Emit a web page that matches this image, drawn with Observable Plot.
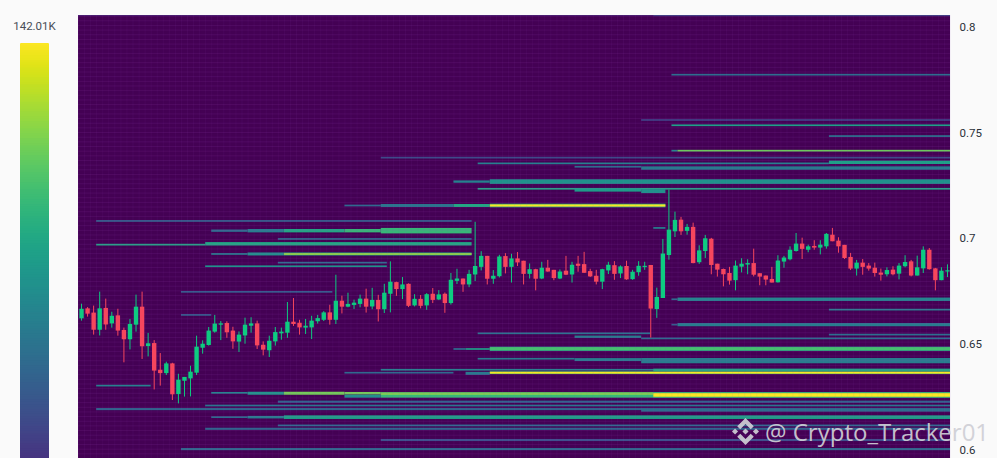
<!DOCTYPE html>
<html>
<head>
<meta charset="utf-8">
<script src="https://cdn.jsdelivr.net/npm/d3@7"></script>
<script src="https://cdn.jsdelivr.net/npm/@observablehq/plot@0.6"></script>
<style>
html,body{margin:0;padding:0;background:#fafafa;overflow:hidden;width:997px;height:458px}
#main{position:absolute;left:0;top:0}
#bar{position:absolute;left:20px;top:43px;width:29px;height:415px;overflow:hidden;border-radius:2px 2px 0 0}
#maxLabel{position:absolute;left:0;width:69px;top:19px;text-align:center;font:11.5px/14px Roboto,sans-serif;color:#474d57}
#mark{position:absolute;left:732px;top:418px;display:flex;align-items:center;gap:6px;color:#cfcfd6;opacity:.92;white-space:nowrap;font:24px/27px "Open Sans",sans-serif}
#mark svg{width:27px;height:27px;fill:currentColor;flex:none}
</style>
</head>
<body>
<div id="main"></div>
<div id="maxLabel">142.01K</div>
<div id="bar"></div>
<div id="mark"><svg viewBox="0 0 126.61 126.61"><path d="M38.73 53.2 63.3 28.63 87.89 53.22 102.19 38.92 63.3 0 24.43 38.9z"/><path d="M0 63.31 14.3 49 28.6 63.3 14.3 77.6z"/><path d="M38.73 73.41 63.3 97.98 87.89 73.39 102.2 87.68 63.3 126.6 24.42 87.7z"/><path d="M98.01 63.31 112.31 49 126.61 63.3 112.31 77.61z"/><path d="M77.81 63.3 63.3 48.78 48.8 63.28 63.3 77.79z"/></svg><span>@ Crypto_Tracker01</span></div>
<script>
// Candles, prices in units of 0.0001
const candleHigh = [
6691,6675,6682,6748,6715,6653,6667,6578,6619,6734,6748,6553,6519,6458,6417,6412,6360,6345,6398,6540,6518,6581,6638,6609,6608,6582,6560,6625,6627,6611,6513,6540,6581,6578,6699,6718,6615,6619,6634,6638,6656,6686,6828,6729,6743,6710,6734,6762,
6766,6733,6785,6891,6795,6817,6787,6736,6732,6741,6765,6755,6744,6836,6856,6810,6851,7078,6939,6917,6850,6922,6930,6927,6935,6894,6881,6856,6889,6898,6851,6853,6917,6889,6917,6936,6856,6851,6856,6889,6892,6872,6894,6851,6892,6889,
6874,6767,6997,7230,7126,7101,7068,7074,6967,7016,7002,6880,6857,6865,6895,6906,6901,6951,6835,6824,6865,6920,6917,6962,7025,7003,6970,6991,6991,7025,7049,7005,6969,6931,6898,6902,6883,6885,6857,6863,6868,6883,6920,6898,6918,6962,6954,6860,6863,6877];
const candleBodyTop = [
6667,6669,6649,6669,6671,6634,6636,6567,6595,6677,6677,6504,6505,6379,6409,6409,6332,6345,6370,6488,6502,6564,6597,6598,6600,6564,6545,6592,6598,6598,6497,6516,6557,6559,6606,6606,6601,6587,6611,6623,6650,6650,6705,6705,6690,6696,6715,6715,
6709,6709,6743,6795,6793,6782,6785,6714,6714,6736,6738,6735,6738,6804,6810,6810,6832,6869,6917,6917,6823,6914,6916,6905,6905,6894,6854,6854,6861,6861,6851,6843,6847,6875,6880,6878,6845,6823,6854,6875,6873,6867,6869,6842,6870,6870,
6874,6723,6928,7041,7087,7088,7054,7054,6943,7000,6998,6880,6855,6836,6871,6880,6883,6883,6835,6824,6808,6895,6909,6946,6975,6975,6962,6964,6970,7021,7017,6989,6969,6912,6885,6885,6871,6861,6838,6850,6852,6871,6888,6891,6863,6946,6946,6858,6847,6849];
const candleBodyBottom = [
6622,6644,6568,6568,6593,6598,6564,6523,6523,6592,6490,6491,6375,6363,6363,6263,6264,6327,6338,6365,6483,6496,6559,6592,6556,6513,6512,6541,6587,6494,6474,6471,6513,6551,6554,6595,6579,6578,6579,6608,6615,6615,6615,6677,6677,6685,6690,6677,
6678,6665,6665,6738,6760,6760,6681,6683,6681,6683,6709,6711,6694,6694,6799,6782,6782,6829,6865,6809,6809,6821,6865,6865,6886,6832,6832,6809,6810,6843,6812,6810,6828,6829,6870,6837,6820,6795,6795,6848,6832,6834,6806,6807,6840,6864,
6668,6666,6718,6921,7033,7033,7035,6883,6887,6940,6874,6852,6830,6800,6802,6866,6876,6828,6819,6805,6791,6792,6890,6901,6940,6950,6946,6956,6956,6962,6986,6962,6907,6857,6857,6865,6857,6836,6828,6830,6830,6833,6868,6824,6824,6858,6854,6802,6802,6843];
const candleLow = [
6611,6630,6545,6541,6568,6578,6540,6414,6475,6559,6430,6442,6286,6304,6354,6236,6220,6252,6253,6354,6455,6493,6554,6519,6530,6478,6463,6502,6554,6477,6447,6439,6493,6521,6530,6586,6545,6548,6524,6597,6609,6592,6595,6645,6674,6666,6674,6649,
6665,6607,6647,6650,6728,6713,6675,6678,6669,6662,6694,6708,6648,6687,6784,6747,6769,6798,6848,6782,6785,6815,6834,6791,6869,6782,6810,6754,6807,6842,6802,6807,6826,6791,6842,6836,6817,6782,6760,6831,6804,6812,6804,6804,6823,6851,
6531,6624,6718,6899,7006,7016,7017,6882,6879,6907,6830,6819,6773,6781,6754,6839,6830,6820,6778,6778,6791,6791,6861,6896,6937,6902,6934,6946,6924,6951,6986,6932,6902,6850,6824,6828,6847,6819,6800,6820,6825,6806,6863,6820,6824,6836,6852,6754,6802,6817];
const candleDirection =
"GRRGRGRRGGRGRRGRGGGGGGGGRRGGGRRGGGGRRGGGGRGRGGGR" +
"GRGGRGRGRGRGRGGRGGGRGGRGRRGRGRRGRGRRRRGGRGRGGG" +
"RGGGGRGRGGRRRRGGGRRRRGGGGRGRGGRRRRGRRRRGRGGRGGRRGG";

// Wider, weaker bands lying under the strongest levels
const glowFrom = [0.5,68.5,34.5,68.5,95.5,68.5];
const glowTo = [95.5,97.5,65.5,144.5,144.5,144.5];
const glowPrice = [.8052,.7155,.6926,.6365,.6260,.6478];
const glowSpan = [.0004,.0017,.0014,.0013,.0025,.0020];
const glowVolume = [14,90,85,85,92,70];

// Liquidation heat bands: candle span, price level, price span, volume (K)
const bandFrom = [95.5,98.5,93.5,98.5,124.5,98.5,99.5,50.5,66.5,124.5,82.5,93.5,62.5,68.5,66.5,82.5,93.5,44.5,50.5,62.5,68.5,3.5,95.5,22.5,28.5,34.5,44.5,50.5,33.5,3.5,21.5,22.5,28.5,34.5,33.5,21.5,17.5,17.5,3.5,98.5,99.5,124.5,98.5,99.5,66.5,124.5,82.5,93.5,62.5,64.5,68.5,66.5,82.5,93.5,50.5,95.5,44.5,64.5,68.5,22.5,28.5,34.5,44.5,44.5,50.5,50.5,95.5,33.5,21.5,3.5,93.5,22.5,28.5,34.5,33.5,21.5,50.5,17.5];
const bandTo = [144.5,144.5,144.5,144.5,144.5,99.5,144.5,144.5,124.5,144.5,93.5,144.5,68.5,144.5,144.5,93.5,97.5,50.5,62.5,68.5,97.5,65.5,97.5,28.5,34.5,44.5,50.5,65.5,65.5,21.5,65.5,28.5,34.5,65.5,51.5,51.5,42.5,22.5,12.5,99.5,144.5,144.5,99.5,144.5,95,144.5,93.5,144.5,64.5,68.5,144.5,82.5,93.5,144.5,144.5,144.5,62.5,68.5,144.5,28.5,34.5,44.5,50.5,50.5,144.5,95.5,144.5,144.5,144.5,144.5,144.5,28.5,34.5,144.5,144.5,144.5,144.5,144.5];
const bandPrice = [.8052,.7773,.7559,.7534,.7483,.7414,.7414,.7381,.7354,.7359,.7338,.7332,.7268,.7268,.7234,.7228,.7223,.7155,.7155,.7155,.7155,.7082,.7049,.7036,.7036,.7036,.7036,.7036,.6997,.6970,.6974,.6926,.6926,.6926,.6885,.6868,.6747,.6638,.6304,.6712,.6712,.6663,.6592,.6592,.6551,.6545,.6535,.6527,.6477,.6477,.6478,.6431,.6427,.6422,.6379,.6378,.6365,.6362,.6365,.6270,.6268,.6268,.6268,.6254,.6260,.6266,.6260,.6228,.6210,.6193,.6188,.6155,.6155,.6155,.6116,.6100,.6047,.6004];
const bandSpan = [.0005,.0008,.0008,.0008,.0008,.0008,.0008,.0008,.0008,.0016,.0008,.0016,.0011,.0022,.0008,.0015,.0019,.0008,.0014,.0014,.0010,.0008,.0008,.0011,.0016,.0016,.0016,.0026,.0008,.0008,.0016,.0008,.0014,.0009,.0008,.0008,.0008,.0008,.0008,.0008,.0016,.0008,.0008,.0015,.0008,.0008,.0011,.0008,.0008,.0008,.0016,.0008,.0014,.0025,.0008,.0012,.0008,.0014,.0009,.0008,.0014,.0014,.0012,.0014,.0026,.0011,.0017,.0010,.0008,.0010,.0014,.0008,.0012,.0017,.0008,.0010,.0010,.0010];
const bandVolume = [30,50,28,80,55,65,110,32,62,80,50,58,62,72,85,78,72,48,55,85,141,45,62,50,60,85,95,95,48,85,85,60,72,118,52,72,40,42,62,50,65,62,40,60,55,52,60,50,50,80,100,58,60,60,65,85,48,58,141,65,75,112,112,70,95,115,141,45,55,45,50,50,60,80,50,45,35,50];

const maxVolume = 142010;
const priceTicks = [0.6, 0.65, 0.7, 0.75, 0.8];
const priceDomain = [0.5962, 0.8055];
const candleDomain = [0.5, 144.5];

const candles = candleHigh.map((h, i) => ({
  i: i + 1, high: h / 1e4, low: candleLow[i] / 1e4,
  top: candleBodyTop[i] / 1e4, bottom: candleBodyBottom[i] / 1e4,
  dir: candleDirection[i]
}));
const toBands = (from, to, price, span, volume) => from.map((f, i) => ({
  from: f, to: to[i],
  y1: price[i] - span[i] / 2, y2: price[i] + span[i] / 2,
  volume: volume[i] * 1000
}));
const bands = [
  ...toBands(glowFrom, glowTo, glowPrice, glowSpan, glowVolume),
  ...toBands(bandFrom, bandTo, bandPrice, bandSpan, bandVolume)
];
const candleColor = d => d.dir === "G" ? "#0ecb81" : "#f6465d";

const main = Plot.plot({
  width: 997, height: 458,
  marginLeft: 78, marginRight: 47, marginTop: 15, marginBottom: 0,
  style: {background: "transparent", fontFamily: "Roboto, sans-serif", fontSize: "11.5px", color: "#2b3139"},
  x: {domain: candleDomain, axis: null},
  y: {domain: priceDomain, axis: null},
  color: {type: "linear", scheme: "viridis", domain: [0, maxVolume]},
  marks: [
    Plot.rect([0], {x1: candleDomain[0], x2: candleDomain[1], y1: priceDomain[0], y2: priceDomain[1], fill: () => 0}),
    Plot.rect(bands, {x1: "from", x2: "to", y1: "y1", y2: "y2", fill: "volume"}),
    Plot.ruleY(d3.range(priceDomain[0], priceDomain[1], 0.0022), {stroke: "#a04fc0", strokeOpacity: 0.13, strokeWidth: 1}),
    Plot.ruleX(d3.range(candleDomain[0], candleDomain[1] + 1, 1), {stroke: "#a04fc0", strokeOpacity: 0.07, strokeWidth: 1}),
    Plot.ruleX(candles, {x: "i", y1: "low", y2: "high", stroke: candleColor, strokeWidth: 1}),
    Plot.ruleX(candles, {x: "i", y1: "bottom", y2: "top", stroke: candleColor, strokeWidth: 4.4}),
    Plot.axisY({anchor: "right", ticks: priceTicks, tickSize: 0, tickPadding: 9, textAnchor: "start", tickFormat: d => String(d), label: null})
  ]
});
document.getElementById("main").append(main);

const barStep = maxVolume / 200;
const barSteps = d3.range(0, maxVolume, barStep);
const bar = Plot.plot({
  width: 29, height: 415,
  margin: 0,
  style: {background: "transparent"},
  x: {domain: [0, 1], axis: null},
  y: {domain: [0, maxVolume], range: [488, 0], axis: null},
  color: {type: "linear", scheme: "viridis", domain: [0, maxVolume]},
  marks: [
    Plot.rect(barSteps, {x1: () => 0, x2: () => 1, y1: d => d, y2: d => d + barStep * 3, fill: d => d})
  ]
});
document.getElementById("bar").append(bar);
</script>
</body>
</html>
